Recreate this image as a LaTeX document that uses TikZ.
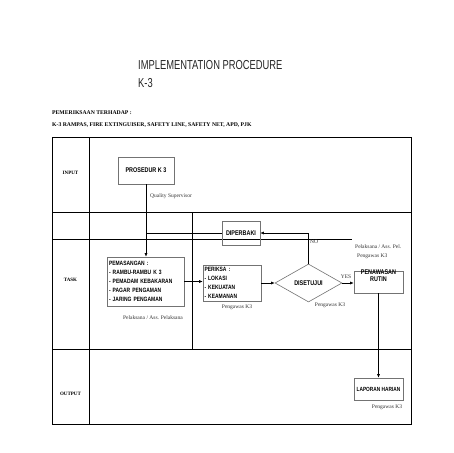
\documentclass[tikz,border=0pt]{standalone}
\usepackage{fontspec}
\setmainfont{Liberation Serif}
\newfontfamily\narrowfont[FakeStretch=0.8]{Liberation Sans}
\newfontfamily\titlefont[FakeStretch=0.72]{Liberation Sans}
\usetikzlibrary{shapes.geometric,arrows.meta}
\begin{document}
\begin{tikzpicture}[x=1pt,y=-1pt,
  grid/.style={line width=1pt, draw=black},
  boxfont/.style={font=\narrowfont\bfseries\fontsize{6.8}{7}\selectfont},
  box/.style={draw=black!55, line width=0.6pt, inner sep=0pt, boxfont},
  listbox/.style={box, align=left, font=\narrowfont\bfseries\fontsize{6.2}{9}\selectfont},
  note/.style={inner sep=0pt, font=\fontsize{5.5}{6}\selectfont, text=black!80},
  rowlabel/.style={inner sep=0pt, font=\bfseries\fontsize{5}{5}\selectfont},
  conn/.style={line width=0.6pt, -{Latex[length=3.5pt,width=3pt]}},
  plainline/.style={line width=0.6pt}]
\fill[white] (0,0) rectangle (453,453);
\useasboundingbox (0,0) rectangle (453,453);
% title
\node[anchor=west, inner sep=0pt, text=black!85, font=\titlefont\fontsize{13}{14}\selectfont] (t1) at (138,65) {IMPLEMENTATION PROCEDURE};
\node[anchor=west, inner sep=0pt, text=black!85, font=\titlefont\fontsize{13}{14}\selectfont] (t2) at (138,83) {K-3};
% header
\node[anchor=west, inner sep=0pt, font=\bfseries\fontsize{5.7}{6}\selectfont] (h1) at (52,113) {PEMERIKSAAN TERHADAP :};
\node[anchor=west, inner sep=0pt, font=\bfseries\fontsize{5.7}{6}\selectfont] (h2) at (52,125) {K-3 RAMPAS, FIRE EXTINGUISER, SAFETY LINE, SAFETY NET, APD, PJK};
% table
\draw[grid] (52,137) rectangle (411,424);
\draw[grid] (89,137) -- (89,424);
\draw[grid] (52,212) -- (411,212);
\draw[grid] (52,349) -- (411,349);
\draw[grid] (52,239) -- (352,239);
\draw[grid] (192,212) -- (192,349);
% row labels
\node[rowlabel] (rin) at (70.5,173) {INPUT};
\node[rowlabel] (rtask) at (70.5,280) {TASK};
\node[rowlabel] (rout) at (70.5,394) {OUTPUT};
% nodes
\node[box, minimum width=56pt, minimum height=27pt] (pros) at (146,170.5) {PROSEDUR K 3};
\node[note, anchor=west] (qs) at (150,196) {Quality Supervisor};
\node[box, minimum width=38pt, minimum height=24pt] (dip) at (241,233) {DIPERBAKI};
\node[listbox, minimum width=77pt, minimum height=49pt, text width=73pt] (pem) at (145.5,281.5) {PEMASANGAN :\\- RAMBU-RAMBU K 3\\- PEMADAM KEBAKARAN\\- PAGAR PENGAMAN\\- JARING PENGAMAN};
\node[note] (pel) at (153,318) {Pelaksana / Ass. Pelaksana};
\node[listbox, minimum width=58pt, minimum height=36pt, text width=55pt] (per) at (232,283) {PERIKSA :\\- LOKASI\\- KEKUATAN\\- KEAMANAN};
\node[note] (pg1) at (237,307) {Pengawas K3};
\node[box, diamond, minimum width=67pt, minimum height=38pt] (dis) at (308.5,283) {DISETUJUI};
\node[note] (pg2) at (330,305) {Pengawas K3};
\node[box, minimum width=49pt, minimum height=22pt] (pen) at (378.5,282) {};
\node[inner sep=0pt, boxfont, align=center, anchor=north] (pent) at (378.5,270) {PENAWASAN\\RUTIN};
\node[box, minimum width=49pt, minimum height=22pt, font=\narrowfont\bfseries\fontsize{6}{6}\selectfont] (lap) at (378.5,389) {LAPORAN HARIAN};
\node[note] (pg3) at (387,407) {Pengawas K3};
\node[note, anchor=west] (pap) at (355,247) {Pelaksana / Ass. Pel.};
\node[note, anchor=west] (pg4) at (357,256) {Pengawas K3};
\node[note] (no) at (314,242) {NO};
\node[note] (yes) at (346,277) {YES};
% connectors
\draw[conn] (pros.south) -- (pros.south |- pem.north);
\draw[plainline] (dip.west) -- (dip.west -| pros.south);
\draw[conn] (pem.east) -- (pem.east -| per.west);
\draw[conn] (per.east) -- (dis.west);
\draw[conn] (dis.north) |- (dip.east);
\draw[conn] (dis.east) -- (dis.east -| pen.west);
\draw[conn] (pen.south) -- (lap.north);
\end{tikzpicture}
\end{document}
